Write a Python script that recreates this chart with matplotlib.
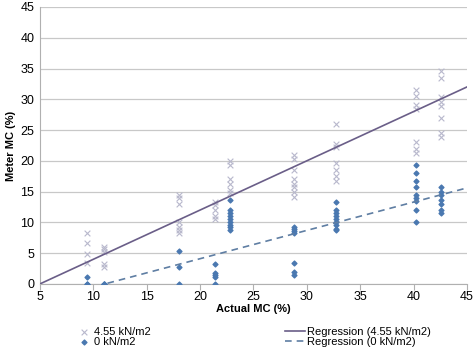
import matplotlib
matplotlib.use("Agg")
import matplotlib.pyplot as plt
import numpy as np

plt.rcParams["font.family"] = ["Liberation Sans", "DejaVu Sans"]

# ---------------------------------------------------------------------------
# Data
# ---------------------------------------------------------------------------
# 4.55 kN/m2 (crosses)
x_load = ([9.4] * 4 + [11.0] * 5 + [18.0] * 7 + [21.4] * 5 + [22.8] * 6
          + [28.8] * 8 + [32.7] * 7 + [40.2] * 7 + [42.6] * 8)
y_load = [8.2, 6.7, 4.9, 3.4,
          6.0, 5.6, 5.2, 3.3, 2.8,
          14.5, 14.0, 13.0, 10.0, 9.3, 8.8, 8.2,
          13.3, 12.8, 12.0, 11.0, 10.5,
          20.0, 19.3, 17.0, 16.3, 15.2, 14.7,
          21.0, 20.3, 18.5, 17.0, 16.2, 15.8, 15.0, 14.2,
          26.0, 22.7, 22.2, 19.6, 18.5, 17.5, 16.8,
          31.5, 30.5, 29.0, 28.5, 23.0, 22.0, 21.3,
          34.6, 33.4, 30.4, 29.6, 28.9, 27.0, 24.5, 23.8]

# 0 kN/m2 (diamonds)
x_free = ([9.4] * 3 + [11.0] * 3 + [18.0] * 3 + [21.4] * 5 + [22.8] * 9
          + [28.8] * 7 + [32.7] * 9 + [40.2] * 9 + [42.6] * 7)
y_free = [0.0, 0.0, 1.2,
          0.0, 0.0, 0.0,
          0.0, 2.8, 5.3,
          0.0, 1.2, 1.5, 1.8, 3.2,
          13.7, 12.0, 11.5, 11.0, 10.5, 10.0, 9.5, 9.2, 8.8,
          9.3, 9.0, 8.6, 8.3, 3.4, 2.0, 1.5,
          13.3, 12.0, 11.5, 11.0, 10.5, 10.0, 9.5, 9.0, 8.8,
          19.4, 18.0, 16.8, 15.7, 14.5, 14.0, 13.5, 12.0, 10.0,
          15.8, 15.0, 14.5, 13.6, 13.0, 12.0, 11.5]

# regression lines (slope, intercept)
reg_load = (0.80, -4.0)
reg_free = (0.46, -5.1)
reg_x = [5, 45]

x_ticks = [5, 10, 15, 20, 25, 30, 35, 40, 45]
y_ticks = [0, 5, 10, 15, 20, 25, 30, 35, 40, 45]

# ---------------------------------------------------------------------------
# Plot
# ---------------------------------------------------------------------------
fig = plt.figure(figsize=(4.74, 3.48), dpi=100)
ax = fig.add_axes([0.084, 0.184, 0.901, 0.796])

h1 = ax.scatter(x_load, y_load, marker="x", s=17, linewidths=0.8,
                color="#b8b8cc", zorder=3, label="4.55 kN/m2")
h2 = ax.scatter(x_free, y_free, marker="D", s=6, color="#4a78b0",
                zorder=4, label="0 kN/m2")

xr = np.array(reg_x, dtype=float)
l1, = ax.plot(xr, reg_load[0] * xr + reg_load[1], color="#6a5e88", lw=1.2,
              label="Regression (4.55 kN/m2)", zorder=5)
l2, = ax.plot(xr, reg_free[0] * xr + reg_free[1], color="#5f7ea3", lw=1.2,
              ls=(0, (4, 3)), label="Regression (0 kN/m2)", zorder=5)

ax.set_xlim(5, 45)
ax.set_ylim(0, 45)
ax.set_xticks(x_ticks)
ax.set_yticks(y_ticks)
ax.grid(axis="y", color="#c8c8c8", lw=0.9)
ax.set_axisbelow(True)
for s in ("top", "right"):
    ax.spines[s].set_visible(False)
for s in ("left", "bottom"):
    ax.spines[s].set_color("#b0b0b0")
ax.tick_params(axis="x", length=4, color="#b0b0b0", labelsize=9, pad=1)
ax.tick_params(axis="y", length=0, labelsize=9, pad=4)
ax.set_xlabel("Actual MC (%)", fontsize=8, fontweight="bold", labelpad=1)
ax.set_ylabel("Meter MC (%)", fontsize=8, fontweight="bold", labelpad=3)

fig.legend(handles=[h1, h2], loc="lower left", bbox_to_anchor=(0.15, -0.02),
           frameon=False, fontsize=8, handlelength=1.0, handletextpad=0.4,
           labelspacing=0.0, borderpad=0.2)
fig.legend(handles=[l1, l2], loc="lower left", bbox_to_anchor=(0.585, -0.02),
           frameon=False, fontsize=8, handlelength=1.8, handletextpad=0.2,
           labelspacing=0.0, borderpad=0.2)

fig.savefig("out.png", dpi=100)
